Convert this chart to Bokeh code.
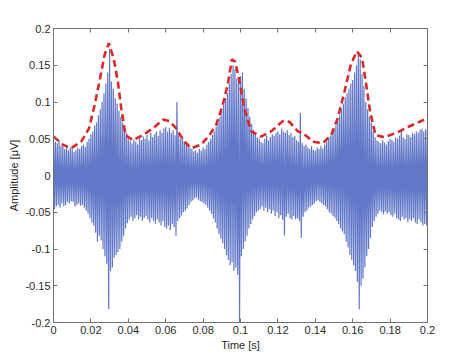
from bokeh.plotting import figure
from bokeh.models import LinearAxis, FixedTicker, Range1d, CustomJSTickFormatter
from bokeh.embed import file_html
from bokeh.resources import INLINE

# ---- data ----
# upper extremes of the recorded signal, one per ms from 0 s
sig_hi_t = [round(i * 0.001, 4) for i in range(201)]
sig_hi = [0.050, 0.046, 0.044, 0.047, 0.040, 0.042, 0.036, 0.040, 0.034, 0.038,
          0.037, 0.032, 0.035, 0.038, 0.036, 0.040, 0.042, 0.039, 0.046, 0.050,
          0.056, 0.060, 0.068, 0.072, 0.082, 0.090, 0.100, 0.112, 0.125, 0.140,
          0.172, 0.128, 0.118, 0.105, 0.098, 0.088, 0.080, 0.072, 0.064, 0.058,
          0.050, 0.047, 0.044, 0.049, 0.046, 0.042, 0.052, 0.048, 0.053, 0.050,
          0.055, 0.048, 0.058, 0.052, 0.056, 0.060, 0.054, 0.062, 0.058, 0.064,
          0.066, 0.060, 0.065, 0.058, 0.062, 0.055, 0.100, 0.056, 0.050, 0.052,
          0.046, 0.042, 0.044, 0.038, 0.036, 0.033, 0.034, 0.031, 0.036, 0.034,
          0.038, 0.036, 0.042, 0.046, 0.050, 0.055, 0.060, 0.066, 0.072, 0.080,
          0.088, 0.096, 0.105, 0.112, 0.125, 0.138, 0.150, 0.145, 0.132, 0.128,
          0.135, 0.140, 0.118, 0.105, 0.092, 0.080, 0.070, 0.062, 0.056, 0.052,
          0.050, 0.046, 0.044, 0.050, 0.054, 0.048, 0.052, 0.056, 0.054, 0.058,
          0.060, 0.056, 0.064, 0.060, 0.058, 0.062, 0.055, 0.058, 0.052, 0.054,
          0.048, 0.046, 0.085, 0.044, 0.040, 0.042, 0.038, 0.036, 0.040, 0.035,
          0.034, 0.038, 0.036, 0.040, 0.037, 0.042, 0.046, 0.050, 0.054, 0.058,
          0.062, 0.068, 0.074, 0.082, 0.090, 0.098, 0.106, 0.112, 0.118, 0.125,
          0.130, 0.140, 0.150, 0.165, 0.158, 0.138, 0.122, 0.100, 0.090, 0.080,
          0.072, 0.060, 0.052, 0.048, 0.046, 0.044, 0.048, 0.045, 0.042, 0.047,
          0.050, 0.048, 0.046, 0.052, 0.050, 0.054, 0.062, 0.052, 0.050, 0.056,
          0.055, 0.052, 0.058, 0.056, 0.060, 0.058, 0.062, 0.064, 0.060, 0.063,
          0.066]
# lower extremes of the signal, one per ms from 0.5 ms
sig_lo_t = [round(0.0005 + i * 0.001, 4) for i in range(200)]
sig_lo = [-0.046, -0.042, -0.040, -0.044, -0.038, -0.042, -0.040, -0.036, -0.038, -0.035,
          -0.036, -0.042, -0.040, -0.038, -0.041, -0.040, -0.044, -0.048, -0.052, -0.058,
          -0.064, -0.068, -0.078, -0.090, -0.082, -0.088, -0.100, -0.110, -0.120, -0.182,
          -0.130, -0.125, -0.112, -0.108, -0.104, -0.100, -0.090, -0.082, -0.072, -0.065,
          -0.060, -0.056, -0.062, -0.058, -0.054, -0.060, -0.056, -0.062, -0.058, -0.055,
          -0.060, -0.064, -0.058, -0.062, -0.066, -0.060, -0.064, -0.068, -0.062, -0.070,
          -0.072, -0.068, -0.074, -0.066, -0.070, -0.082, -0.062, -0.058, -0.054, -0.050,
          -0.048, -0.045, -0.040, -0.036, -0.034, -0.031, -0.030, -0.033, -0.035, -0.036,
          -0.038, -0.040, -0.044, -0.048, -0.052, -0.058, -0.064, -0.072, -0.080, -0.086,
          -0.092, -0.100, -0.108, -0.115, -0.122, -0.118, -0.130, -0.125, -0.135, -0.200,
          -0.110, -0.100, -0.090, -0.082, -0.072, -0.066, -0.060, -0.055, -0.050, -0.048,
          -0.046, -0.042, -0.048, -0.044, -0.050, -0.046, -0.052, -0.048, -0.055, -0.050,
          -0.058, -0.054, -0.060, -0.082, -0.056, -0.052, -0.058, -0.060, -0.055, -0.060,
          -0.058, -0.062, -0.085, -0.056, -0.050, -0.048, -0.044, -0.042, -0.040, -0.038,
          -0.035, -0.034, -0.036, -0.038, -0.040, -0.042, -0.046, -0.050, -0.052, -0.055,
          -0.058, -0.062, -0.066, -0.072, -0.076, -0.080, -0.090, -0.098, -0.108, -0.115,
          -0.122, -0.130, -0.145, -0.182, -0.150, -0.140, -0.125, -0.110, -0.100, -0.085,
          -0.070, -0.062, -0.056, -0.052, -0.048, -0.050, -0.053, -0.049, -0.052, -0.050,
          -0.054, -0.056, -0.052, -0.058, -0.060, -0.062, -0.056, -0.060, -0.058, -0.064,
          -0.060, -0.062, -0.058, -0.064, -0.066, -0.060, -0.064, -0.068, -0.066, -0.068]

# red dashed envelope
env_t = [0.0, 0.005, 0.0094, 0.0148, 0.019, 0.022, 0.0246, 0.0273, 0.0296, 0.0321,
         0.0344, 0.0362, 0.0385, 0.0424, 0.0478, 0.0531, 0.0585, 0.062, 0.0656, 0.070,
         0.0736, 0.079, 0.0834, 0.087, 0.0905, 0.0932, 0.0954, 0.0971, 0.0995, 0.102,
         0.1057, 0.111, 0.1164, 0.1226, 0.1262, 0.1307, 0.1333, 0.1387, 0.144, 0.1485,
         0.152, 0.1556, 0.159, 0.1622, 0.165, 0.1672, 0.1693, 0.1722, 0.177, 0.1833,
         0.1904, 0.2]
env_v = [0.053, 0.042, 0.037, 0.046, 0.064, 0.096, 0.128, 0.164, 0.180, 0.160,
         0.128, 0.092, 0.055, 0.048, 0.055, 0.064, 0.076, 0.074, 0.064, 0.046,
         0.037, 0.042, 0.055, 0.069, 0.096, 0.124, 0.158, 0.155, 0.128, 0.092,
         0.060, 0.053, 0.060, 0.074, 0.073, 0.060, 0.058, 0.046, 0.044, 0.055,
         0.078, 0.114, 0.151, 0.169, 0.160, 0.124, 0.087, 0.055, 0.052, 0.058,
         0.067, 0.078]

x_ticks = [0, 0.02, 0.04, 0.06, 0.08, 0.1, 0.12, 0.14, 0.16, 0.18, 0.2]
x_tick_labels = ["0", "0.02", "0.04", "0.06", "0.08", "0.1", "0.12", "0.14", "0.16", "0.18", "0.2"]
y_ticks = [-0.2, -0.15, -0.1, -0.05, 0, 0.05, 0.1, 0.15, 0.2]
y_tick_labels = ["-0.2", "-0.15", "-0.1", "-0.05", "0", "0.05", "0.1", "0.15", "0.2"]

# interleave the extremes into one time-ordered signal
sig_t, sig_v = [], []
for i in range(len(sig_hi)):
    sig_t.append(sig_hi_t[i]); sig_v.append(sig_hi[i])
    if i < len(sig_lo):
        sig_t.append(sig_lo_t[i]); sig_v.append(sig_lo[i])

FONT = "Liberation Sans"
TXT = "#2a2a2a"
AX = "#707070"

p = figure(width=465, height=355, output_backend="svg", toolbar_location=None,
           x_range=Range1d(0, 0.2), y_range=Range1d(-0.2, 0.2),
           min_border_left=53, min_border_right=38, min_border_top=28, min_border_bottom=33,
           background_fill_color="white", border_fill_color="white")
p.grid.visible = False
p.outline_line_color = AX

p.line(sig_t, sig_v, line_color="#6278c8", line_width=1.2)
p.line(env_t, env_v, line_color="#d62a2a", line_width=2.6, line_dash="7 4")

def style(ax):
    ax.axis_line_color = AX
    ax.major_tick_line_color = AX
    ax.minor_tick_line_color = None
    ax.major_tick_in = 4
    ax.major_tick_out = 0
    ax.major_label_text_font = FONT
    ax.major_label_text_font_size = "11px"
    ax.major_label_text_color = TXT
    ax.axis_label_text_font = FONT
    ax.axis_label_text_font_size = "11px"
    ax.axis_label_text_font_style = "normal"
    ax.axis_label_text_color = TXT
    ax.major_label_standoff = 3
    ax.axis_label_standoff = 2

xa = p.xaxis[0]
ya = p.yaxis[0]
xa.ticker = FixedTicker(ticks=x_ticks)
ya.ticker = FixedTicker(ticks=y_ticks)
xa.major_label_overrides = {t: l for t, l in zip(x_ticks, x_tick_labels)}
ya.major_label_overrides = {t: l for t, l in zip(y_ticks, y_tick_labels)}
xa.axis_label = "Time [s]"
ya.axis_label = "Amplitude [μV]"
style(xa)
style(ya)

blank = CustomJSTickFormatter(code="return ''")
top = LinearAxis(ticker=FixedTicker(ticks=x_ticks), formatter=blank)
right = LinearAxis(ticker=FixedTicker(ticks=y_ticks), formatter=blank)
style(top)
style(right)
top.major_label_standoff = 0
right.major_label_standoff = 0
p.add_layout(top, "above")
p.add_layout(right, "right")

open("out.html", "w").write(file_html(p, INLINE))
